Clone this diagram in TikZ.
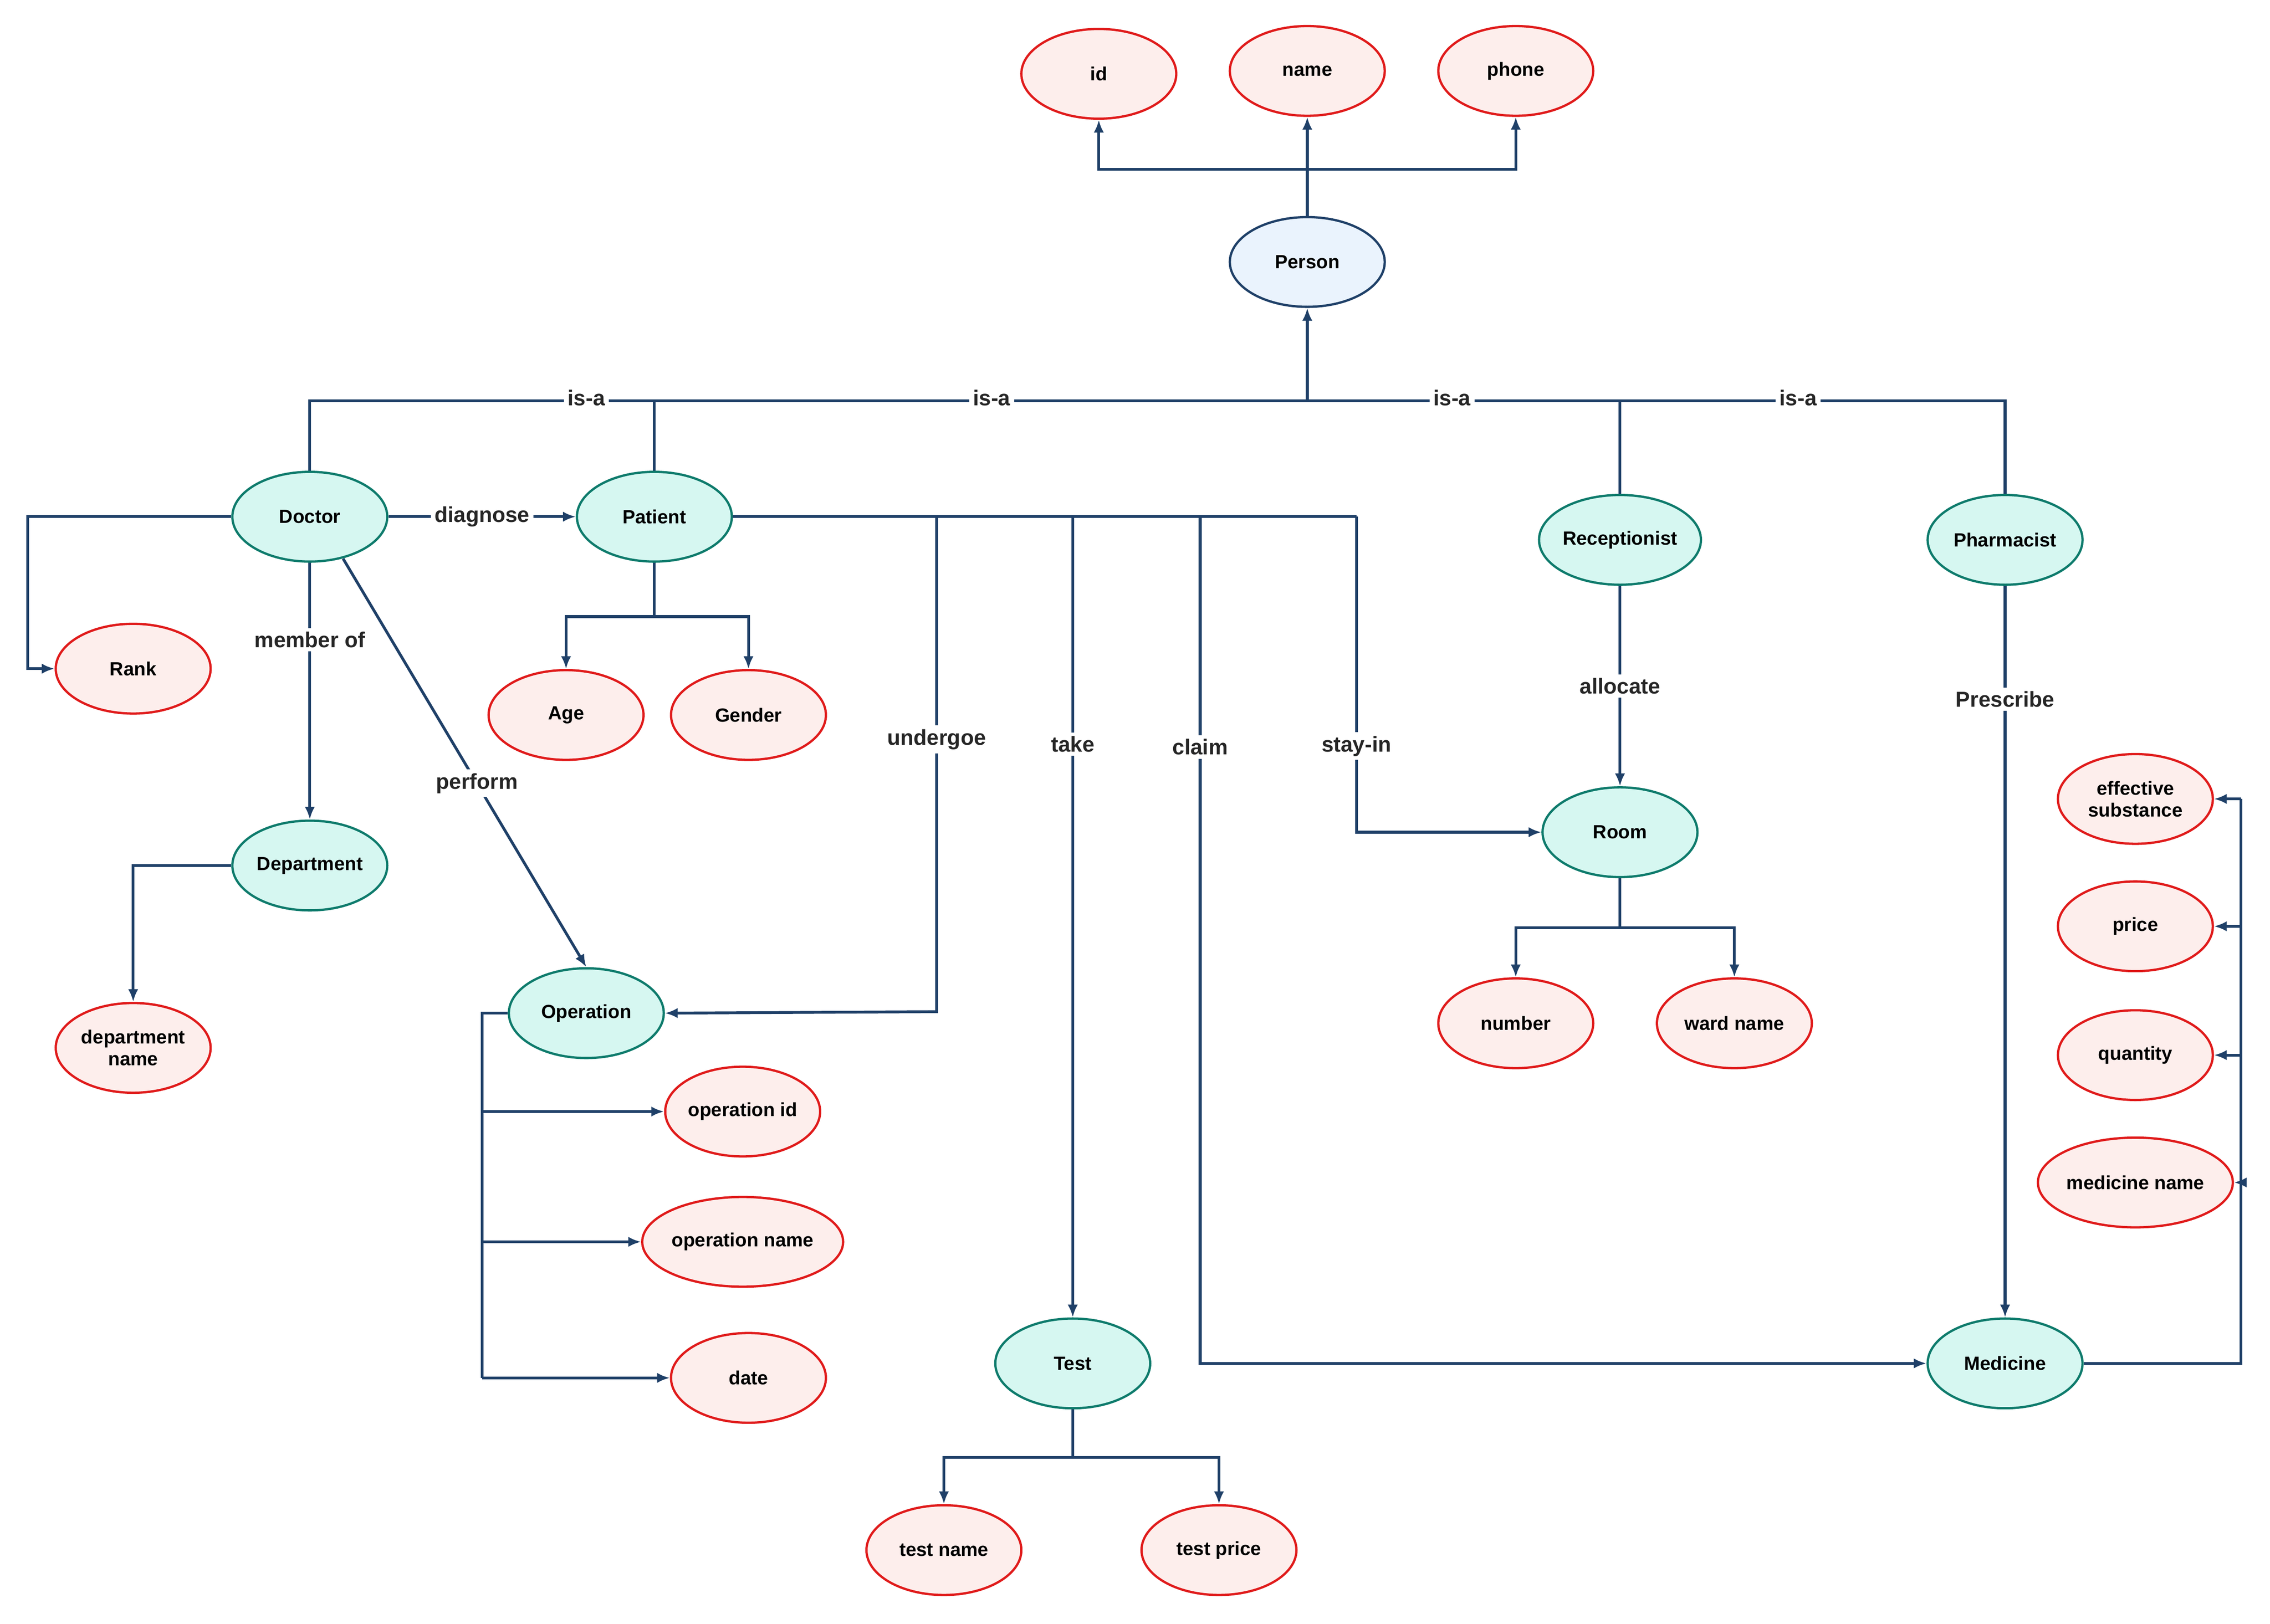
\documentclass[tikz,border=0pt]{standalone}
\usepackage{fontspec}
\setmainfont{Liberation Sans}
\usetikzlibrary{arrows.meta,calc,shapes.geometric}
\definecolor{ln}{HTML}{1F4068}
\definecolor{entf}{HTML}{D6F7F1}
\definecolor{ents}{HTML}{0E7B6C}
\definecolor{attf}{HTML}{FDEEEC}
\definecolor{atts}{HTML}{E01B1B}
\definecolor{perf}{HTML}{EAF3FD}
\begin{document}
\begin{tikzpicture}[x=0.02cm,y=-0.02cm,
  base/.style={ellipse,minimum width=107*0.02cm,minimum height=62*0.02cm,line width=0.9pt,align=center,font=\fontsize{7.5}{8.5}\selectfont\bfseries,inner sep=0pt},
  ent/.style={base,draw=ents,fill=entf},
  att/.style={base,draw=atts,fill=attf},
  per/.style={base,draw=ln,fill=perf},
  con/.style={draw=ln,line width=1.1pt},
  arr/.style={con,-{Latex[length=5pt,width=4pt]}},
  lab/.style={fill=white,inner sep=1.5pt,font=\fontsize{8.5}{10}\selectfont\bfseries,text=black!85}]
\useasboundingbox (0,0) rectangle (1568,1122);
\node[att] (id) at (759,51) {id};
\node[att] (name) at (903,49) {name};
\node[att] (phone) at (1047,49) {phone};
\node[per] (person) at (903,181) {Person};
\node[ent] (doctor) at (214,357) {Doctor};
\node[ent] (patient) at (452,357) {Patient};
\node[ent] (recep) at (1119,373) {Receptionist};
\node[ent] (pharm) at (1385,373) {Pharmacist};
\node[att] (rank) at (92,462) {Rank};
\node[att] (age) at (391,494) {Age};
\node[att] (gender) at (517,494) {Gender};
\node[ent] (dept) at (214,598) {Department};
\node[att] (dname) at (92,724) {department\\name};
\node[ent] (op) at (405,700) {Operation};
\node[att] (opid) at (513,768) {operation id};
\node[att] (opname) at (513,858) {operation name};
\node[att] (date) at (517,952) {date};
\node[ent] (test) at (741,942) {Test};
\node[att] (tname) at (652,1071) {test name};
\node[att] (tprice) at (842,1071) {test price};
\node[ent] (room) at (1119,575) {Room};
\node[att] (number) at (1047,707) {number};
\node[att] (ward) at (1198,707) {ward name};
\node[ent] (med) at (1385,942) {Medicine};
\node[att] (eff) at (1475,552) {effective\\substance};
\node[att] (price) at (1475,640) {price};
\node[att] (qty) at (1475,729) {quantity};
\node[att] (mname) at (1475,817) {medicine name};
% person attributes
\draw[arr] (person.north) -- (name.south);
\draw[arr] (person.north) -- (person.north |- 0,117) -| (id.south);
\draw[arr] (person.north) -- (person.north |- 0,117) -| (phone.south);
% is-a
\coordinate (isa) at (903,277);
\draw[con] (doctor.north) |- (isa);
\draw[con] (patient.north) -- (patient.north |- isa);
\draw[con] (recep.north) |- (isa);
\draw[con] (pharm.north) |- (isa);
\draw[arr] (isa) -- (person.south);
\node[lab] at (405,275) {is-a};
\node[lab] at (685,275) {is-a};
\node[lab] at (1003,275) {is-a};
\node[lab] at (1242,275) {is-a};
% doctor
\draw[arr] (doctor) -- node[lab]{diagnose} (patient);
\draw[arr] (doctor.west) -- (19,357) |- (rank.west);
\draw[arr] (doctor) -- node[lab,pos=0.3]{member of} (dept);
\draw[arr] (237,386) -- node[lab,pos=0.55]{perform} (op.north);
\draw[arr] (dept.west) -| (dname.north);
% patient
\draw[arr] (patient.south) -- (452,426) -| (age.north);
\draw[arr] (patient.south) -- (452,426) -| (gender.north);
\draw[con] (patient.east) -- (937,357);
\draw[arr] (647,357) -- node[lab,pos=0.45]{undergoe} (647,699) -- (op.east);
\draw[arr] (741,357) -- node[lab,pos=0.284]{take} (test.north);
\draw[arr] (829,357) -- node[lab,pos=0.272]{claim} (829,942) -- (med.west);
\draw[arr] (937,357) -- node[lab,pos=0.727]{stay-in} (937,575) -- (room.west);
\draw[arr] (recep) -- node[lab,pos=0.5]{allocate} (room);
\draw[arr] (pharm) -- node[lab,pos=0.155]{Prescribe} (med);
% operation
\draw[con] (op.west) -- (333,700) -- (333,952);
\draw[arr] (333,768) -- (opid.west);
\draw[arr] (333,858) -- (opname.west);
\draw[arr] (333,952) -- (date.west);
% test
\draw[arr] (test.south) -- (741,1007) -| (tname.north);
\draw[arr] (test.south) -- (741,1007) -| (tprice.north);
% room
\draw[arr] (room.south) -- (1119,641) -| (number.north);
\draw[arr] (room.south) -- (1119,641) -| (ward.north);
% medicine
\draw[con] (med.east) -- (1548,942) -- (1548,552);
\draw[arr] (1548,552) -- (eff.east);
\draw[arr] (1548,640) -- (price.east);
\draw[arr] (1548,729) -- (qty.east);
\draw[arr] (1548,817) -- (mname.east);
\end{tikzpicture}
\end{document}
